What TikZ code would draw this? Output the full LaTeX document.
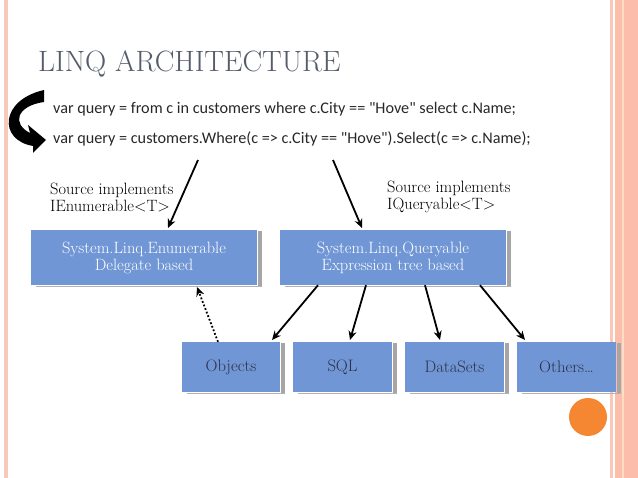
\documentclass[tikz,border=0pt]{standalone}
\usepackage{fontspec}
\newfontfamily\codefont{Carlito}
\usetikzlibrary{arrows.meta}
\definecolor{boxblue}{RGB}{112,150,214}
\definecolor{pinkA}{RGB}{248,200,185}
\definecolor{pinkB}{RGB}{252,190,170}
\definecolor{titlegray}{RGB}{85,92,108}
\definecolor{orangeC}{RGB}{246,135,50}
\begin{document}
\begin{tikzpicture}[x=1pt,y=-1pt,
  box/.style={fill=boxblue,draw=none,minimum width=#1,minimum height=55pt,inner sep=0pt,text=white,font=\fontsize{16.4}{17}\selectfont,align=center},
  sbox/.style={fill=boxblue,draw=none,minimum width=98pt,minimum height=50pt,inner sep=0pt,text={rgb,255:red,45;green,50;blue,70},font=\fontsize{16.6}{17}\selectfont},
  arr/.style={line width=1.8pt,-{Stealth[length=9pt,width=8pt]}},
  code/.style={anchor=west,inner sep=0pt,font=\codefont\fontsize{16.2}{17}\selectfont,text={rgb,255:red,40;green,40;blue,40}},
  lab/.style={anchor=west,inner sep=0pt,align=left,font=\fontsize{16.4}{17}\selectfont}]
\useasboundingbox (0,0) rectangle (638,478);
\fill[white] (0,0) rectangle (638,478);
% borders
\fill[pinkA] (4,0) rectangle (8,478);
\fill[pinkA] (610,0) rectangle (613,478);
\fill[pinkB] (615,0) rectangle (638,478);
\fill[pinkA!60!orange!40] (622,0) rectangle (624,478);
% title
\node[anchor=base west,inner sep=0pt,text=titlegray,font=\fontsize{29.4}{30}\selectfont] (title) at (38,72) {LINQ ARCHITECTURE};
% code
\node[code] (q1) at (53,109) {var query = from c in customers where c.City == "Hove" select c.Name;};
\node[code] (q2) at (53,139) {var query = customers.Where(c => c.City == "Hove").Select(c => c.Name);};
% curved arrow
\fill[black] (44,102) .. controls (16,106) and (12,124) .. (30,133) -- (28,125) -- (46,140) -- (33,153) -- (33,146)
  .. controls (-2,140) and (0,100) .. (44,90) -- cycle;
% labels
\node[lab] (l1) at (50,197) {Source implements\\IEnumerable<T>};
\node[lab] (l2) at (387,197) {Source implements\\IQueryable<T>};
% shadows
\foreach \a/\b/\c/\d in {31/230/257/285, 280/230/506/285, 182/342/280/392, 293/342/392/392, 405/342/504/392, 517/342/616/392}{
  \fill[gray!70] (\c+1,\b+1) rectangle (\c+5,\d+2);
  \fill[gray!60] (\a+5,\d+1) rectangle (\c+5,\d+2.5);
}
% boxes
\node[box=226pt] (en) at (144,257.5) {System.Linq.Enumerable\\Delegate based};
\node[box=226pt] (qu) at (393,257.5) {System.Linq.Queryable\\Expression tree based};
\node[sbox] (ob) at (231,367) {Objects};
\node[sbox,minimum width=99pt] (sq) at (342.5,367) {SQL};
\node[sbox,minimum width=99pt] (ds) at (454.5,367) {DataSets};
\node[sbox,minimum width=99pt] (ot) at (566.5,367) {Others\ldots};
% arrows
\coordinate (s1) at (198,160);
\coordinate (s2) at (333,160);
\draw[arr] (s1) -- (168,228);
\draw[arr] (s2) -- (362,228);
\draw[arr] (qu.south -| 318,0) -- (272,340);
\draw[arr] (qu.south -| 366,0) -- (350,340);
\draw[arr] (qu.south -| 425,0) -- (440,340);
\draw[arr] (qu.south -| 480,0) -- (525,340);
\draw[line width=1.8pt,dotted,-{Stealth[length=9pt,width=8pt]}] (ob.north -| 218,0) -- (197,287);
% circle
\fill[orangeC] (588,417) circle (19);
\end{tikzpicture}
\end{document}
